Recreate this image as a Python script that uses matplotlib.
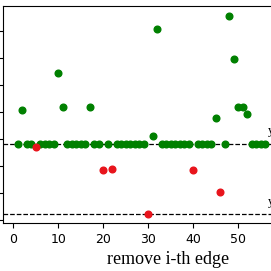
import matplotlib
matplotlib.use('Agg')
import matplotlib.pyplot as plt
import numpy as np

# edges whose removal leaves the value unchanged (sit on the upper dashed line)
base_x = [1, 3, 4, 6, 7, 8, 9, 12, 13, 14, 15, 16, 18, 19, 21, 23, 24, 25, 26,
          27, 28, 29, 33, 34, 35, 36, 37, 38, 39, 41, 42, 43, 44, 47, 53, 54, 55, 56]
base_y = -0.17

# edges that raise the value
up_x = [2, 10, 11, 17, 31, 32, 45, 48, 49, 50, 51, 52]
up_y = [1.08, 2.44, 1.17, 1.17, 0.12, 4.06, 0.77, 4.56, 2.95, 1.17, 1.17, 0.93]

# edges that lower the value
down_x = [5, 20, 22, 30, 40, 46]
down_y = [-0.28, -1.14, -1.11, -2.77, -1.14, -1.95]

ref_hi = -0.18
ref_lo = -2.78

W = H = 271
fig = plt.figure(figsize=(W / 100, H / 100), dpi=100)
# axes runs past the right edge of the picture (the original was cropped)
left, right, top, bottom = 2.7, 334.0, 6.0, 223.0
ax = fig.add_axes([left / W, 1 - bottom / H, (right - left) / W, (bottom - top) / H])

ax.axhline(ref_hi, color='black', ls='--', lw=0.9, zorder=1)
ax.axhline(ref_lo, color='black', ls='--', lw=0.9, zorder=1)

ax.scatter(base_x, [base_y] * len(base_x), s=23, color='green', zorder=3)
ax.scatter(up_x, up_y, s=23, color='green', zorder=3)
ax.scatter(down_x, down_y, s=23, color='#e8141c', zorder=3)

# labels of the reference lines, cut off by the picture edge as in the original
ax.text(56.6, ref_hi + 0.35, 'y = original', fontsize=9, family='Liberation Serif')
ax.text(56.6, ref_lo + 0.35, 'y = 0', fontsize=9, family='Liberation Serif')

ax.set_xlim(-2.36, 71.27)
ax.set_ylim(-3.11, 4.93)
ax.set_xticks([0, 10, 20, 30, 40, 50])
ax.set_yticks(np.arange(-3, 5, 1))
ax.set_yticklabels([])
ax.tick_params(labelsize=9)
ax.set_xlabel('remove i-th edge', fontsize=13, family='Liberation Serif')

fig.savefig('out.png', dpi=100)
